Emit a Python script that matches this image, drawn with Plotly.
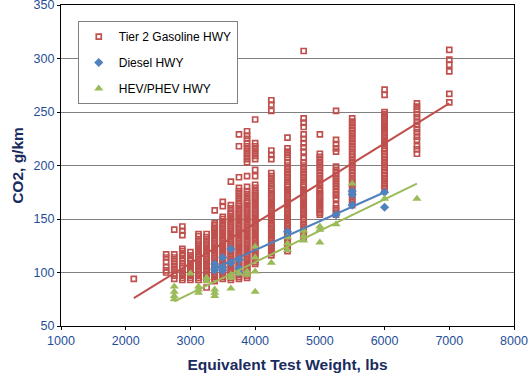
import plotly.graph_objects as go

# ---- Data ----
gas_2125 = [94]
gas_2625 = [117, 114, 110, 105, 102, 100]
gas_2750 = [140, 117, 114, 111, 108, 105, 102, 99, 97, 94]
gas_2875 = [143, 139, 135, 122, 120, 118, 116, 113, 111, 109, 106, 104, 101, 99, 97, 95, 93]
gas_3000 = [119, 116, 113, 111, 109, 107, 105, 103, 101, 99, 97, 95, 93]
gas_3125 = [136, 134, 131, 129, 127, 125, 123, 121, 119, 117, 115, 113, 111, 109, 107, 105, 103, 101, 99, 97, 95, 93]
gas_3250 = [136, 133, 131, 129, 127, 125, 123, 121, 119, 117, 115, 113, 111, 109, 107, 105, 103, 101, 99, 97, 95, 93, 86]
gas_3375 = [158, 146, 144, 142, 140, 138, 136, 134, 132, 130, 128, 126, 124, 122, 120, 118, 116, 114, 112, 110, 108, 106, 104, 102, 100, 98, 96, 94, 92]
gas_3500 = [166, 162, 152, 150, 148, 146, 144, 142, 140, 138, 136, 134, 132, 130, 128, 126, 124, 122, 120, 118, 116, 114, 112, 110, 108, 106, 104, 102, 100, 98, 96, 94]
gas_3625 = [185, 163, 160, 157, 155, 153, 151, 149, 147, 145, 143, 141, 139, 137, 135, 133, 131, 129, 127, 125, 123, 121, 119, 117, 115, 113, 111, 109, 107, 105, 103, 101, 99, 97, 95, 93]
gas_3750 = [229, 218, 189, 179, 176, 173, 170, 167, 164, 162, 160, 158, 156, 154, 152, 150, 148, 146, 144, 142, 140, 138, 136, 134, 132, 130, 128, 126, 124, 122, 120, 118, 116, 114, 112, 110, 108, 106, 104, 102, 100, 98, 96, 94]
gas_3875 = [232, 228, 225, 221, 218, 215, 212, 209, 206, 203, 190, 180, 176, 173, 170, 167, 165, 163, 161, 159, 157, 155, 153, 151, 149, 147, 145, 143, 141, 139, 137, 135, 133, 131, 129, 127, 125, 123, 121, 119, 117, 115, 113, 111, 109, 107, 105, 103, 101, 99, 97, 95]
gas_4000 = [243, 221, 218, 215, 212, 209, 206, 196, 190, 182, 179, 176, 174, 172, 170, 168, 166, 164, 162, 160, 158, 156, 154, 152, 150, 148, 146, 144, 142, 140, 138, 136, 134, 132, 130, 128, 126, 124, 122, 120, 118, 116, 114, 112, 110, 108]
gas_4250 = [261, 257, 251, 214, 210, 206, 193, 190, 187, 184, 181, 178, 176, 174, 172, 170, 168, 166, 164, 162, 160, 158, 156, 154, 152, 150, 148, 146, 144, 142, 140, 138, 136, 134, 132, 130, 128, 126, 124, 122, 120, 118, 116]
gas_4500 = [226, 216, 213, 210, 207, 203, 200, 197, 194, 191, 188, 185, 182, 180, 178, 176, 174, 172, 170, 168, 166, 164, 162, 160, 158, 156, 154, 152, 150, 148, 146, 144, 142, 140, 138, 136, 134, 132, 130, 128, 126, 124, 122, 120]
gas_4750 = [307, 244, 240, 236, 229, 225, 221, 217, 213, 207, 203, 200, 197, 194, 191, 188, 185, 182, 180, 178, 176, 174, 172, 170, 168, 166, 164, 162, 160, 158, 156, 154, 152, 150, 147, 144, 141, 138, 135, 132]
gas_5000 = [229, 211, 208, 205, 202, 199, 196, 193, 190, 187, 184, 182, 178, 176, 174, 172, 170, 168, 166, 164, 162, 160, 158, 156, 154]
gas_5250 = [251, 224, 220, 216, 213, 199, 196, 193, 190, 187, 184, 181, 178, 175, 172, 169, 163, 160, 157, 154]
gas_5500 = [244, 241, 238, 235, 232, 229, 226, 223, 220, 217, 214, 211, 208, 205, 202, 199, 196, 193, 190, 187, 184, 181, 178, 175, 172, 169, 166, 163]
gas_6000 = [271, 266, 250, 248, 246, 244, 242, 240, 238, 236, 234, 232, 230, 228, 226, 224, 222, 220, 218, 216, 214, 211, 208, 205, 202, 199, 196, 193, 190, 187, 184, 181, 178]
gas_6500 = [258, 255, 252, 248, 245, 241, 238, 234, 231, 227, 224, 218, 215, 211]
gas_7000 = [308, 299, 294, 288, 267, 259]

gas_weights = [2125, 2625, 2750, 2875, 3000, 3125, 3250, 3375, 3500, 3625, 3750, 3875,
               4000, 4250, 4500, 4750, 5000, 5250, 5500, 6000, 6500, 7000]
gas_columns = [gas_2125, gas_2625, gas_2750, gas_2875, gas_3000, gas_3125, gas_3250, gas_3375,
               gas_3500, gas_3625, gas_3750, gas_3875, gas_4000, gas_4250, gas_4500, gas_4750,
               gas_5000, gas_5250, gas_5500, gas_6000, gas_6500, gas_7000]

diesel_x = [3375, 3375, 3375, 3500, 3500, 3500, 3625, 3625, 3750, 3750, 3750, 4500, 5250, 5500, 5500, 5500, 6000, 6000]
diesel_y = [108, 104, 102, 114, 105, 102, 122, 109, 112, 104, 100, 138, 154, 176, 173, 163, 175, 161]

hev_x = [2750, 2750, 2750, 2750, 3000, 3125, 3125, 3125, 3250, 3250, 3375, 3375, 3375,
         3625, 3625, 3625, 3750, 3875, 3875, 4000, 4000, 4000, 4000, 4250,
         4500, 4500, 4500, 4750, 4750, 4750, 5000, 5000, 5000, 5250, 5500, 6000, 6500]
hev_y = [87, 82, 78, 75, 99, 87, 84, 81, 95, 92, 84, 81, 78,
         98, 95, 85, 99, 101, 98, 124, 114, 101, 82, 109,
         133, 127, 121, 139, 134, 130, 143, 140, 128, 145, 183, 169, 169]

# Linear trendline end points
gas_trend_x = [2125, 7000]
gas_trend_y = [76, 258]
diesel_trend_x = [3375, 6000]
diesel_trend_y = [104, 175]
hev_trend_x = [2750, 6500]
hev_trend_y = [73, 183]

RED = "#C0504D"
BLUE = "#4F81BD"
GREEN = "#9BBB59"

gas_x, gas_y = [], []
for w, col in zip(gas_weights, gas_columns):
    for v in col:
        gas_x.append(w)
        gas_y.append(v)

fig = go.Figure()
fig.add_trace(go.Scatter(
    x=gas_x, y=gas_y, mode="markers", name="Tier 2 Gasoline HWY",
    legendgroup="g1",
    marker=dict(symbol="square-open", size=5, color=RED, line=dict(width=1.7, color=RED)),
))
fig.add_trace(go.Scatter(
    x=diesel_x, y=diesel_y, mode="markers", name="Diesel HWY",
    legendgroup="g2",
    marker=dict(symbol="diamond", size=7, color=BLUE),
))
fig.add_trace(go.Scatter(
    x=hev_x, y=hev_y, mode="markers", name="HEV/PHEV HWY",
    legendgroup="g3",
    marker=dict(symbol="triangle-up", size=8, color=GREEN),
))
for tx, ty, c in [(gas_trend_x, gas_trend_y, RED), (diesel_trend_x, diesel_trend_y, BLUE),
                  (hev_trend_x, hev_trend_y, GREEN)]:
    fig.add_trace(go.Scatter(x=tx, y=ty, mode="lines", showlegend=False,
                             line=dict(color=c, width=2), hoverinfo="skip"))

TICK = "#1F4E99"
TITLE = "#1A2B5E"
fig.update_layout(
    width=528, height=376,
    margin=dict(l=61, r=14, t=5, b=50),
    paper_bgcolor="white", plot_bgcolor="white",
    font=dict(family="Liberation Sans, Arial, sans-serif", size=12, color="black"),
    showlegend=True,
    legend=dict(
        x=0.037, y=0.95, xanchor="left", yanchor="top",
        bgcolor="white", bordercolor="#808080", borderwidth=1,
        font=dict(size=12, color="black"),
        tracegroupgap=7, itemsizing="trace", itemwidth=30,
    ),
    xaxis=dict(
        range=[1000, 8000], dtick=1000, tick0=1000, automargin=False,
        showgrid=False, zeroline=False,
        showline=True, linecolor="black", linewidth=1.2, mirror=True,
        ticks="outside", ticklen=3, tickcolor="black",
        tickfont=dict(size=12.5, color=TICK), ticklabeloverflow="allow",
        title=dict(text="<b>Equivalent Test Weight, lbs</b>", font=dict(size=15.5, color=TITLE), standoff=12),
    ),
    yaxis=dict(
        range=[50, 350], dtick=50, tick0=50, automargin=False,
        showgrid=True, gridcolor="#808080", gridwidth=1, zeroline=False,
        showline=True, linecolor="black", linewidth=1.2, mirror=True,
        ticks="outside", ticklen=3, tickcolor="black",
        tickfont=dict(size=12.5, color=TICK), ticklabeloverflow="allow",
        title=dict(text="<b>CO2, g/km</b>", font=dict(size=15.5, color=TITLE), standoff=6),
    ),
)

fig.write_html("out.html", config={"displayModeBar": False},
               post_script="document.body.style.margin='0';document.body.style.overflow='hidden';")
